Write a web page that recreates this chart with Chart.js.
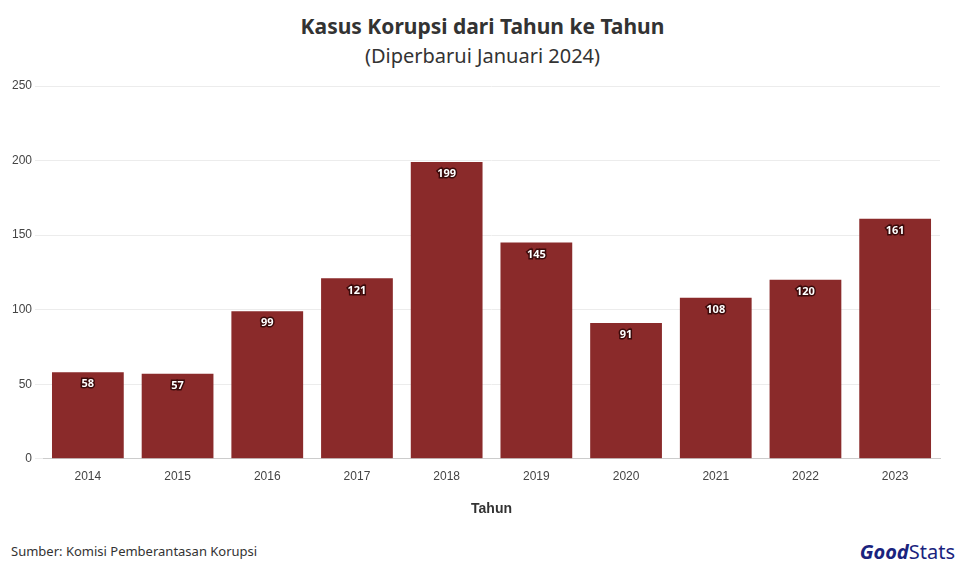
<!DOCTYPE html>
<html lang="id">
<head>
<meta charset="UTF-8">
<title>Kasus Korupsi</title>
<script src="https://cdn.jsdelivr.net/npm/chart.js"></script>
<style>
    body{ margin:0; background:#fff; font-family:"Source Sans Pro","Noto Sans",sans-serif; }
    .wrap{ position:relative; width:965px; height:575px; }
    .judul{ position:absolute; top:12px; left:0; right:0; text-align:center; color:#333; }
    .judul b{ font-size:21px; }
    .judul div{ font-size:20px; margin-top:2px; }
    .sumber{ position:absolute; left:11px; top:542px; font-size:13px; color:#333; }
    .logo{ position:absolute; right:10px; top:538px; font-size:20px; color:#1a237e; font-weight:bold; font-style:italic; }
    .logo span{ font-weight:normal; font-style:normal; }
    .grafik{ position:absolute; left:0; top:74px; width:965px; height:450px; }
</style>
</head>
<body>
<div class="wrap">
    <div class="judul"><b>Kasus Korupsi dari Tahun ke Tahun</b><div>(Diperbarui Januari 2024)</div></div>
    <div class="grafik"><canvas id="kasus" width="965" height="450"></canvas></div>
    <div class="sumber">Sumber: Komisi Pemberantasan Korupsi</div>
    <div class="logo">Good<span>Stats</span></div>
</div>
<script>
    let tahun = ['2014','2015','2016','2017','2018','2019','2020','2021','2022','2023'];
    let jumlah = [58, 57, 99, 121, 199, 145, 91, 108, 120, 161];

    // label angka di dalam ujung batang
    let labelBatang = {
        id: 'labelBatang',
        afterDatasetsDraw(chart) {
            let ctx = chart.ctx;
            chart.getDatasetMeta(0).data.forEach((bar, i) => {
                ctx.save();
                ctx.font = 'bold 11px "Noto Sans", sans-serif';
                ctx.textAlign = 'center';
                ctx.textBaseline = 'middle';
                ctx.lineWidth = 3;
                ctx.strokeStyle = '#3a0a0a';
                ctx.strokeText(jumlah[i], bar.x, bar.y + 12);
                ctx.fillStyle = '#fff';
                ctx.fillText(jumlah[i], bar.x, bar.y + 12);
                ctx.restore();
            });
        }
    };

    new Chart(document.getElementById('kasus'), {
        type: 'bar',
        data: {
            labels: tahun,
            datasets: [{
                data: jumlah,
                backgroundColor: '#8a2a2a',
                categoryPercentage: 0.8,
                barPercentage: 1
            }]
        },
        options: {
            responsive: false,
            animation: false,
            layout: { padding: { right: 25, left: 9, top: 12, bottom: 2 } },
            plugins: { legend: { display: false }, tooltip: { enabled: false } },
            scales: {
                x: {
                    grid: { display: false },
                    border: { color: '#ccc' },
                    ticks: { color: '#444', font: { size: 12 } },
                    title: { display: true, text: 'Tahun', color: '#333', font: { size: 14, weight: 'bold' }, padding: { top: 14 } }
                },
                y: {
                    min: 0, max: 250,
                    ticks: { stepSize: 50, color: '#444', font: { size: 12 } },
                    grid: { color: '#ececec' },
                    border: { display: false }
                }
            }
        },
        plugins: [labelBatang]
    });
</script>
</body>
</html>
